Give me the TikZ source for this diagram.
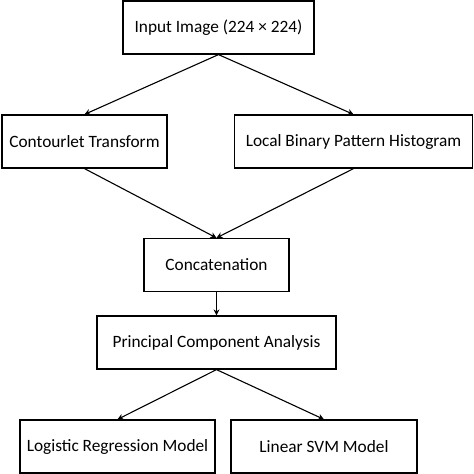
\documentclass[tikz,border=0pt]{standalone}
\usepackage{fontspec}
\setmainfont{Carlito}
\usetikzlibrary{arrows.meta,positioning}

\begin{document}
\begin{tikzpicture}[x=1pt,y=1pt,
  stage/.style={
   draw,
   line width=1.2pt,
   rectangle,
   inner sep=0pt,
   minimum height=53pt,
   font=\fontsize{17.3}{20}\selectfont
  },
  flow/.style={
   line width=1.1pt,
   -{Stealth[length=6pt,width=6pt]}
  }]
  \useasboundingbox (0,0) rectangle (474,-474);
  % top of the pipeline
  \node[stage,minimum width=191pt] at (218.5,-27.5)
	  (input) {Input Image (224 × 224)};
  \node[stage,minimum width=165pt] at (84.5,-141.5)
	  (contour) {Contourlet Transform};
  \node[stage,minimum width=238pt] at (353.5,-141.5)
	  (lbp) {Local Binary Pattern Histogram};
  % merged features
  \node[stage,minimum width=145pt] at (216.5,-265)
	  (concat) {Concatenation};
  \node[stage,minimum width=239pt] at (216.5,-342.5)
	  (pca) {Principal Component Analysis};
  % classifiers
  \node[stage,minimum width=195pt] at (117.5,-446.5)
	  (logreg) {Logistic Regression Model};
  \node[stage,minimum width=186pt] at (324,-446.5)
	  (svm) {Linear SVM Model};

  \draw[flow] (input.south) -- (contour.north);
  \draw[flow] (input.south) -- (lbp.north);
  \draw[flow] (contour.south) -- (concat.north);
  \draw[flow] (lbp.south) -- (concat.north);
  \draw[flow] (concat.south) -- (pca.north);
  \draw[flow] (pca.south) -- (logreg.north);
  \draw[flow] (pca.south) -- (svm.north);
\end{tikzpicture}
\end{document}
